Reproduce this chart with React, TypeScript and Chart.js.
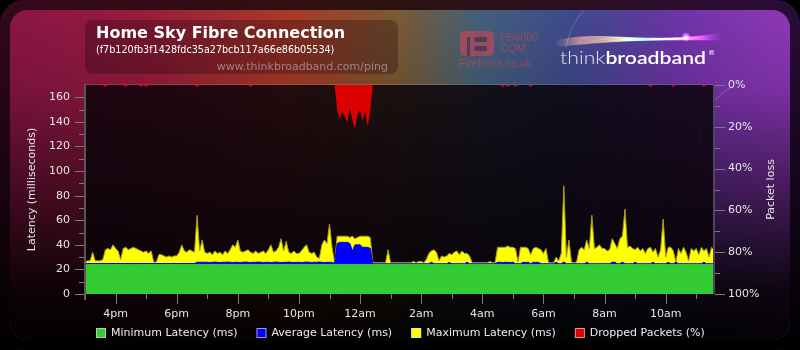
import React, { useEffect, useRef } from 'react';
import { Chart, registerables } from 'chart.js';

Chart.register(...registerables);

// ---------- texts ----------
const TITLE = 'Home Sky Fibre Connection';
const SUBTITLE = '(f7b120fb3f1428fdc35a27bcb117a66e86b05534)';
const URL_TEXT = 'www.thinkbroadband.com/ping';
const Y_TITLE = 'Latency (milliseconds)';
const Y2_TITLE = 'Packet loss';

// ---------- axes ----------
const SAMPLE_MINUTES = 5; // one sample every 5 minutes, starting 3pm
const X_RANGE_HOURS = 20.58;
const X_TICK_LABELS = ['4pm', '6pm', '8pm', '10pm', '12am', '2am', '4am', '6am', '8am', '10am'];
const LATENCY_MAX = 170;
const LATENCY_STEP = 20;
const LOSS_STEP = 20;

// ---------- series ----------
const SERIES_LABELS = ['Minimum Latency (ms)', 'Average Latency (ms)', 'Maximum Latency (ms)', 'Dropped Packets (%)'];
const SERIES_COLORS = ['#33cc33', '#0000ff', '#ffff00', '#dd0000'];

const MIN_LATENCY = [
  24, 24, 24, 24, 24, 24, 24, 24, 24, 24, 24, 24,
  24, 24, 24, 24, 24, 24, 24, 24, 24, 24, 24, 24,
  24, 24, 24, 24, 24, 24, 24, 24, 24, 24, 24, 24,
  24, 24, 24, 24, 24, 24, 24, 24, 24, 24, 24, 24,
  24, 24, 24, 24, 24, 24, 24, 24, 24, 24, 24, 24,
  24, 24, 24, 24, 24, 24, 24, 24, 24, 24, 24, 24,
  24, 24, 24, 24, 24, 24, 24, 24, 24, 24, 24, 24,
  24, 24, 24, 24, 24, 24, 24, 24, 24, 24, 24, 24,
  24, 24, 24, 24, 24, 24, 24, 24, 24, 24, 24, 24,
  24, 24, 24, 24, 24, 24, 24, 24, 24, 24, 24, 24,
  24, 24, 24, 24, 24, 24, 24, 24, 24, 24, 24, 24,
  24, 24, 24, 24, 24, 24, 24, 24, 24, 24, 24, 24,
  24, 24, 24, 24, 24, 24, 24, 24, 24, 24, 24, 24,
  24, 24, 24, 24, 24, 24, 24, 24, 24, 24, 24, 24,
  24, 24, 24, 24, 24, 24, 24, 24, 24, 24, 24, 24,
  24, 24, 24, 24, 24, 24, 24, 24, 24, 24, 24, 24,
  24, 24, 24, 24, 24, 24, 24, 24, 24, 24, 24, 24,
  24, 24, 24, 24, 24, 24, 24, 24, 24, 24, 24, 24,
  24, 24, 24, 24, 24, 24, 24, 24, 24, 24, 24, 24,
  24, 24, 24, 24, 24, 24, 24, 24, 24, 24, 24, 24,
  24, 24, 24, 24, 24, 24, 24, 24,
];

const AVG_LATENCY = [
  24.8, 24.8, 24.8, 24.8, 24.8, 24.8, 24.8, 24.8, 24.8, 24.8, 24.8, 24.8,
  24.8, 24.8, 24.8, 24.8, 24.8, 24.8, 24.8, 24.8, 24.8, 24.8, 24.8, 24.8,
  24.8, 24.8, 24.8, 24.8, 24.8, 24.8, 24.8, 24.8, 24.8, 24.8, 24.8, 24.8,
  24.8, 24.8, 24.8, 24.8, 24.8, 24.8, 24.8, 24.8, 25.8, 25.8, 25.8, 25.8,
  25.8, 25.6, 25.8, 26, 25.8, 25.6, 25.8, 25.8, 26, 25.8, 25.6, 25.8,
  25.8, 25.6, 25.8, 26, 25.8, 25.6, 25.8, 25.8, 26, 25.8, 25.6, 25.8,
  25.8, 25.6, 25.8, 26, 25.8, 25.6, 25.8, 25.8, 26, 25.8, 25.6, 25.8,
  25.8, 25.6, 25.8, 26, 25.8, 25.6, 25.8, 25.8, 26, 25.8, 25.6, 25.8,
  25.8, 25.6, 25, 41, 42, 42, 42, 42, 41, 35, 40, 40,
  40, 38, 38, 38, 37, 24.8, 24.6, 24.6, 24.6, 24.6, 24.6, 24.6,
  24.6, 24.6, 24.6, 24.6, 24.6, 24.6, 24.6, 24.6, 24.6, 24.6, 24.6, 24.6,
  24.6, 24.6, 24.6, 24.6, 25.8, 24.6, 24.6, 24.6, 24.6, 24.6, 24.6, 25.6,
  24.6, 24.6, 24.6, 24.6, 24.6, 24.6, 25.8, 24.6, 24.6, 24.6, 24.6, 24.6,
  24.6, 24.6, 24.6, 24.6, 24.6, 24.6, 25.8, 25.8, 25.6, 25.8, 25.8, 25.6,
  25.8, 24.6, 24.6, 24.6, 25.8, 25.6, 25.8, 24.6, 25.8, 25.6, 25.8, 24.6,
  24.6, 24.6, 24.6, 24.6, 24.6, 25.8, 24.6, 24.6, 26, 24.6, 24.6, 24.6,
  24.6, 24.6, 24.6, 24.6, 24.6, 25.8, 24.6, 24.6, 24.6, 24.6, 24.6, 24.6,
  24.6, 24.6, 24.6, 25.8, 25.8, 24.6, 24.6, 25.8, 24.6, 24.6, 24.6, 24.6,
  25.8, 24.6, 24.6, 24.6, 24.6, 24.6, 24.6, 25.6, 24.6, 24.6, 24.6, 24.6,
  24.6, 25.8, 24.6, 24.6, 25.8, 24.6, 24.6, 24.6, 24.6, 24.6, 24.6, 24.6,
  24.6, 24.6, 24.6, 25.8, 24.6, 24.6, 24.6, 24.6,
];

const MAX_LATENCY = [
  26, 27, 27, 34, 27, 27, 27, 28, 36, 37, 36, 40,
  37, 35, 28, 37, 38, 36, 37, 38, 37, 36, 35, 34,
  35, 33, 35, 26, 26, 32, 32, 31, 30, 31, 30, 31,
  31, 34, 40, 35, 34, 36, 35, 34, 64, 35, 44, 34,
  33, 34, 32, 35, 33, 34, 32, 35, 33, 36, 40, 38,
  44, 35, 34, 35, 36, 34, 33, 35, 33, 34, 35, 33,
  36, 40, 34, 35, 38, 45, 35, 43, 34, 33, 35, 33,
  33, 35, 38, 40, 34, 33, 34, 30, 29, 40, 44, 41,
  57, 38, 26, 47, 47, 47, 47, 47, 46, 47, 45, 46,
  47, 47, 47, 47, 46, 26, 25.5, 25.5, 25.5, 25.5, 25.5, 36,
  25.5, 25.5, 25.5, 25.5, 25.5, 25.5, 25.5, 25.5, 25.5, 26.5, 25.5, 26.5,
  26.5, 25.5, 28, 33, 35, 36, 34, 27, 31, 30, 31, 33,
  32, 34, 35, 32, 35, 33, 33, 31, 25.5, 25.5, 25.5, 25.5,
  25.5, 25.5, 25.5, 26.5, 25.5, 25.5, 38, 38, 38, 38, 39, 38,
  38, 37, 26, 38, 38, 38, 37, 32, 37, 38, 37, 36,
  33, 37, 25.5, 25.5, 25.5, 30, 27, 33, 88, 30, 44, 26,
  25.5, 26, 36, 38, 36, 44, 37, 64, 37, 38, 40, 37,
  37, 35, 36, 45, 41, 37, 45, 47, 69, 38, 39, 37,
  36, 38, 35, 37, 33, 37, 38, 34, 37, 30, 36, 61,
  30, 38, 38, 35, 26, 37, 33, 38, 34, 27, 37, 35,
  37, 32, 38, 35, 37, 30, 38, 36,
];

const DROPPED_PCT = [
  0, 0, 0, 0, 0, 0, 0, 0, 1, 0, 0, 0,
  0, 0, 0, 0, 1, 0, 0, 0, 0, 0, 1, 0,
  1, 0, 0, 0, 0, 0, 0, 0, 0, 0, 0, 0,
  0, 0, 0, 0, 0, 0, 0, 0, 1, 0, 0, 0,
  0, 0, 0, 0, 0, 0, 0, 0, 0, 0, 0, 0,
  0, 0, 0, 0, 0, 1, 0, 0, 0, 0, 0, 0,
  0, 0, 0, 0, 0, 0, 0, 0, 0, 0, 0, 0,
  0, 0, 0, 0, 0, 0, 0, 0, 0, 0, 0, 0,
  0, 0, 0, 12, 16, 13, 15, 18, 11, 17, 21, 14,
  12, 17, 13, 20, 12, 0, 0, 0, 0, 0, 0, 0,
  0, 0, 0, 0, 0, 0, 0, 0, 0, 0, 0, 0,
  0, 0, 0, 0, 0, 0, 0, 0, 0, 0, 0, 0,
  0, 0, 0, 0, 0, 0, 0, 0, 0, 0, 0, 0,
  0, 0, 0, 0, 0, 0, 0, 0, 1, 0, 1, 0,
  0, 1, 0, 0, 0, 0, 0, 1, 0, 0, 0, 0,
  0, 0, 0, 0, 0, 0, 0, 0, 0, 0, 0, 0,
  0, 0, 0, 0, 0, 0, 0, 0, 0, 0, 0, 0,
  0, 0, 0, 0, 0, 0, 0, 0, 0, 0, 0, 0,
  0, 0, 0, 0, 0, 0, 1, 0, 0, 0, 0, 0,
  0, 0, 0, 1, 0, 0, 0, 0, 0, 0, 0, 0,
  0, 0, 0, 1, 0, 0, 0, 0,
];

const FONT = 'DejaVu Sans';

const toPoints = (arr: number[]) => arr.map((v, i) => ({ x: (i * SAMPLE_MINUTES) / 60, y: v }));

function drawBackground(chart: any) {
  const { ctx, width: W, height: H, chartArea: a } = chart;
  ctx.save();
  ctx.fillStyle = '#000';
  ctx.fillRect(0, 0, W, H);

  // outer frame
  const fg = ctx.createLinearGradient(0, 0, W, 0);
  fg.addColorStop(0, '#34081c');
  fg.addColorStop(0.45, '#2e120e');
  fg.addColorStop(1, '#2a0c38');
  ctx.beginPath();
  ctx.roundRect(0, 0, W, H, 24);
  ctx.fillStyle = fg;
  ctx.fill();
  const fv = ctx.createLinearGradient(0, 0, 0, H);
  fv.addColorStop(0, 'rgba(0,0,0,0)');
  fv.addColorStop(0.6, 'rgba(0,0,0,0.6)');
  fv.addColorStop(1, 'rgba(0,0,0,1)');
  ctx.fillStyle = fv;
  ctx.fill();

  // card
  ctx.save();
  ctx.beginPath();
  ctx.roundRect(10, 10, W - 20, H - 20, 18);
  ctx.clip();
  const hg = ctx.createLinearGradient(10, 0, W - 10, 0);
  hg.addColorStop(0, '#8a1646');
  hg.addColorStop(0.18, '#9a1e3a');
  hg.addColorStop(0.36, '#aa3a26');
  hg.addColorStop(0.5, '#7a5a34');
  hg.addColorStop(0.6, '#44607a');
  hg.addColorStop(0.72, '#3e4a8e');
  hg.addColorStop(0.86, '#6a34a4');
  hg.addColorStop(1, '#8e3ab4');
  ctx.fillStyle = hg;
  ctx.fillRect(0, 0, W, H);

  const rg = ctx.createRadialGradient(800, 120, 0, 800, 120, 200);
  rg.addColorStop(0, 'rgba(140,50,190,0.55)');
  rg.addColorStop(1, 'rgba(140,50,190,0)');
  ctx.fillStyle = rg;
  ctx.fillRect(0, 0, W, H);
  const lg = ctx.createRadialGradient(0, 120, 0, 0, 120, 200);
  lg.addColorStop(0, 'rgba(140,20,70,0.5)');
  lg.addColorStop(1, 'rgba(140,20,70,0)');
  ctx.fillStyle = lg;
  ctx.fillRect(0, 0, W, H);

  const vg = ctx.createLinearGradient(0, 10, 0, H - 10);
  vg.addColorStop(0, 'rgba(0,0,0,0)');
  vg.addColorStop(0.24, 'rgba(0,0,0,0.12)');
  vg.addColorStop(0.52, 'rgba(0,0,0,0.48)');
  vg.addColorStop(0.85, 'rgba(0,0,0,0.9)');
  vg.addColorStop(1, 'rgba(0,0,0,0.97)');
  ctx.fillStyle = vg;
  ctx.fillRect(0, 0, W, H);

  // faint decorative arcs
  ctx.strokeStyle = 'rgba(255,255,255,0.12)';
  ctx.lineWidth = 1.5;
  ctx.beginPath();
  ctx.arc(640, 60, 75, -Math.PI * 0.95, -Math.PI * 0.55);
  ctx.stroke();
  ctx.beginPath();
  ctx.arc(760, 140, 60, Math.PI * 0.95, Math.PI * 1.35);
  ctx.stroke();
  ctx.restore();

  // plot area background
  ctx.fillStyle = 'rgba(10,4,10,0.83)';
  ctx.fillRect(a.left, a.top, a.right - a.left, a.bottom - a.top);

  // title box
  ctx.beginPath();
  ctx.roundRect(85, 20, 313, 54, 8);
  ctx.fillStyle = 'rgba(20,0,10,0.28)';
  ctx.fill();
  ctx.fillStyle = '#ffffff';
  ctx.textBaseline = 'alphabetic';
  ctx.textAlign = 'left';
  ctx.font = `bold 16px "${FONT}"`;
  ctx.fillText(TITLE, 96, 38);
  ctx.font = `9.6px "${FONT}"`;
  ctx.fillText(SUBTITLE, 96, 52.5);
  ctx.textAlign = 'right';
  ctx.font = `11px "${FONT}"`;
  ctx.fillStyle = 'rgba(200,185,195,0.6)';
  ctx.fillText(URL_TEXT, 388, 70);

  // FireBrick logo
  ctx.fillStyle = 'rgba(190,70,88,0.7)';
  ctx.beginPath();
  ctx.roundRect(460, 31, 34, 25, 5);
  ctx.fill();
  ctx.fillStyle = 'rgba(60,60,90,0.85)';
  ctx.fillRect(467, 37, 3, 19);
  ctx.beginPath();
  ctx.roundRect(474, 37, 13, 5, 2);
  ctx.fill();
  ctx.beginPath();
  ctx.roundRect(474, 46, 13, 5, 2);
  ctx.fill();
  ctx.fillStyle = 'rgba(190,70,88,0.7)';
  ctx.textAlign = 'left';
  ctx.font = '11px "Liberation Sans"';
  ctx.fillText('FB6000', 500, 41);
  ctx.fillText('CQM', 500, 52);
  ctx.fillText('FireBrick.co.uk', 459, 67);

  // thinkbroadband swirl
  ctx.save();
  ctx.globalCompositeOperation = 'lighter';
  const sg = ctx.createLinearGradient(555, 0, 722, 0);
  sg.addColorStop(0, 'rgba(255,120,40,0)');
  sg.addColorStop(0.15, 'rgba(255,140,50,0.45)');
  sg.addColorStop(0.38, 'rgba(200,210,60,0.45)');
  sg.addColorStop(0.55, 'rgba(60,210,190,0.45)');
  sg.addColorStop(0.78, 'rgba(230,70,200,0.55)');
  sg.addColorStop(1, 'rgba(180,60,220,0)');
  ctx.strokeStyle = sg;
  ctx.lineWidth = 1;
  for (let k = 0; k < 9; k++) {
    ctx.beginPath();
    ctx.moveTo(556, 41 + k * 0.7);
    ctx.bezierCurveTo(600, 29 + k * 1.6, 645, 46 - k * 0.9, 722, 33 + k * 0.9);
    ctx.stroke();
  }
  const spot = ctx.createRadialGradient(686, 37, 0, 686, 37, 5);
  spot.addColorStop(0, 'rgba(255,220,255,0.8)');
  spot.addColorStop(1, 'rgba(255,120,230,0)');
  ctx.fillStyle = spot;
  ctx.fillRect(678, 29, 16, 16);
  ctx.restore();

  // thinkbroadband wordmark
  ctx.save();
  ctx.font = '300 18px Lato';
  const w1 = ctx.measureText('think').width;
  ctx.font = '600 18px Lato';
  const w2 = ctx.measureText('broadband').width;
  const sx = 146 / (w1 + w2);
  ctx.translate(560, 63.5);
  ctx.scale(sx, 1);
  ctx.textAlign = 'left';
  ctx.fillStyle = '#e6e0ea';
  ctx.font = '300 18px Lato';
  ctx.fillText('think', 0, 0);
  ctx.fillStyle = '#ffffff';
  ctx.font = '600 18px Lato';
  ctx.fillText('broadband', w1, 0);
  ctx.restore();
  ctx.fillStyle = '#ffffff';
  ctx.font = `7px "${FONT}"`;
  ctx.fillText('\u00AE', 708, 55);

  ctx.restore();
}

function drawOverlay(chart: any) {
  const { ctx, chartArea: a, scales } = chart;
  const xs = scales.x;
  const ys = scales.y;
  const y2 = scales.y2;
  ctx.save();

  // top border and axis lines
  ctx.fillStyle = 'rgba(255,255,255,0.13)';
  ctx.fillRect(a.left, a.top - 1, a.right - a.left, 1);
  ctx.fillStyle = '#5c5458';
  ctx.fillRect(a.left - 1, a.top - 1, 2, a.bottom - a.top + 7);
  ctx.fillStyle = '#514460';
  ctx.fillRect(a.right - 1, a.top, 2, a.bottom - a.top);

  ctx.strokeStyle = '#7c7c7c';
  ctx.lineWidth = 1;
  const line = (x1: number, y1: number, x2: number, y2v: number) => {
    ctx.beginPath();
    ctx.moveTo(x1, y1);
    ctx.lineTo(x2, y2v);
    ctx.stroke();
  };
  for (let v = 0; v <= 160; v += LATENCY_STEP / 2) {
    const p = Math.round(ys.getPixelForValue(v)) + 0.5;
    const len = v % LATENCY_STEP === 0 ? 9 : 5;
    line(a.left - 1 - len, p, a.left - 1, p);
  }
  for (let v = 0; v <= 100; v += LOSS_STEP / 2) {
    const p = Math.round(y2.getPixelForValue(v)) + 0.5;
    const len = v % LOSS_STEP === 0 ? 10 : 5;
    line(a.right + 1, p, a.right + 1 + len, p);
  }
  xs.ticks.forEach((t: any) => {
    const p = Math.round(xs.getPixelForValue(t.value)) + 0.5;
    const len = Math.round(t.value) % 2 === 1 ? 10 : 5;
    line(p, a.bottom, p, a.bottom + len);
  });

  // axis titles
  ctx.fillStyle = '#e6e6e6';
  ctx.font = `11px "${FONT}"`;
  ctx.textAlign = 'center';
  ctx.textBaseline = 'middle';
  const cy = (a.top + a.bottom) / 2;
  ctx.save();
  ctx.translate(32.5, cy);
  ctx.rotate(-Math.PI / 2);
  ctx.fillText(Y_TITLE, 0, 0);
  ctx.restore();
  ctx.save();
  ctx.translate(771, cy);
  ctx.rotate(-Math.PI / 2);
  ctx.fillText(Y2_TITLE, 0, 0);
  ctx.restore();

  // legend
  ctx.font = `11px "${FONT}"`;
  const box = 10;
  const gapBoxText = 5;
  const gapItems = 19;
  const widths = SERIES_LABELS.map((l) => box + gapBoxText + ctx.measureText(l).width);
  const total = widths.reduce((s, w) => s + w, 0) + gapItems * (widths.length - 1);
  let x = Math.round(chart.width / 2 - total / 2);
  const ly = 333;
  ctx.textAlign = 'left';
  ctx.textBaseline = 'middle';
  SERIES_LABELS.forEach((l, i) => {
    ctx.fillStyle = SERIES_COLORS[i];
    ctx.fillRect(x, ly - box / 2, box, box);
    ctx.strokeStyle = 'rgba(220,220,220,0.7)';
    ctx.strokeRect(x + 0.5, ly - box / 2 + 0.5, box - 1, box - 1);
    ctx.fillStyle = '#ececec';
    ctx.fillText(l, x + box + gapBoxText, ly + 0.5);
    x += widths[i] + gapItems;
  });

  ctx.restore();
}

export default function App() {
  const ref = useRef<HTMLCanvasElement | null>(null);

  useEffect(() => {
    if (!ref.current) return;
    const seriesData = [MIN_LATENCY, AVG_LATENCY, MAX_LATENCY, DROPPED_PCT];
    const borders = ['#33cc33', '#0000ee', '#a49c20', 'transparent'];
    const borderWidths = [1, 1, 1, 0];
    const chart = new Chart(ref.current, {
      type: 'line',
      data: {
        datasets: seriesData.map((arr, i) => ({
          label: SERIES_LABELS[i],
          data: toPoints(arr),
          yAxisID: i === 3 ? 'y2' : 'y',
          backgroundColor: SERIES_COLORS[i],
          borderColor: borders[i],
          borderWidth: borderWidths[i],
          fill: 'origin',
          pointRadius: 0,
          tension: 0,
          order: i,
        })),
      },
      options: {
        responsive: false,
        animation: false,
        devicePixelRatio: 1,
        events: [],
        layout: { padding: { top: 85, left: 0, right: 0, bottom: 0 } },
        plugins: {
          legend: { display: false },
          tooltip: { enabled: false },
        },
        scales: {
          x: {
            type: 'linear',
            min: 0,
            max: X_RANGE_HOURS,
            grid: { display: false, drawTicks: false },
            border: { display: false },
            ticks: {
              stepSize: 1,
              autoSkip: false,
              maxRotation: 0,
              includeBounds: false,
              padding: 14,
              color: '#e6e6e6',
              font: { family: FONT, size: 11 },
              callback: (v: any) => {
                const h = Math.round(Number(v));
                return h % 2 === 1 ? X_TICK_LABELS[(h - 1) / 2] ?? '' : '';
              },
            },
            afterFit: (s: any) => {
              s.height = 56;
            },
          },
          y: {
            position: 'left',
            min: 0,
            max: LATENCY_MAX,
            grid: { display: false, drawTicks: false },
            border: { display: false },
            ticks: {
              stepSize: LATENCY_STEP,
              includeBounds: false,
              padding: 15,
              color: '#e6e6e6',
              font: { family: FONT, size: 11 },
            },
            afterFit: (s: any) => {
              s.width = 85;
            },
          },
          y2: {
            position: 'right',
            min: 0,
            max: 100,
            reverse: true,
            grid: { display: false, drawTicks: false },
            border: { display: false },
            ticks: {
              stepSize: LOSS_STEP,
              padding: 14,
              color: '#e6e6e6',
              font: { family: FONT, size: 11 },
              callback: (v: any) => `${v}%`,
            },
            afterFit: (s: any) => {
              s.width = 86;
            },
          },
        },
      },
      plugins: [
        {
          id: 'tbbDecor',
          beforeDraw: (c: any) => drawBackground(c),
          afterDraw: (c: any) => drawOverlay(c),
        },
      ],
    } as any);
    return () => chart.destroy();
  }, []);

  return (
    <div style={{ position: 'fixed', left: 0, top: 0, width: 800, height: 350 }}>
      <canvas ref={ref} width={800} height={350} style={{ display: 'block', width: 800, height: 350 }} />
    </div>
  );
}
